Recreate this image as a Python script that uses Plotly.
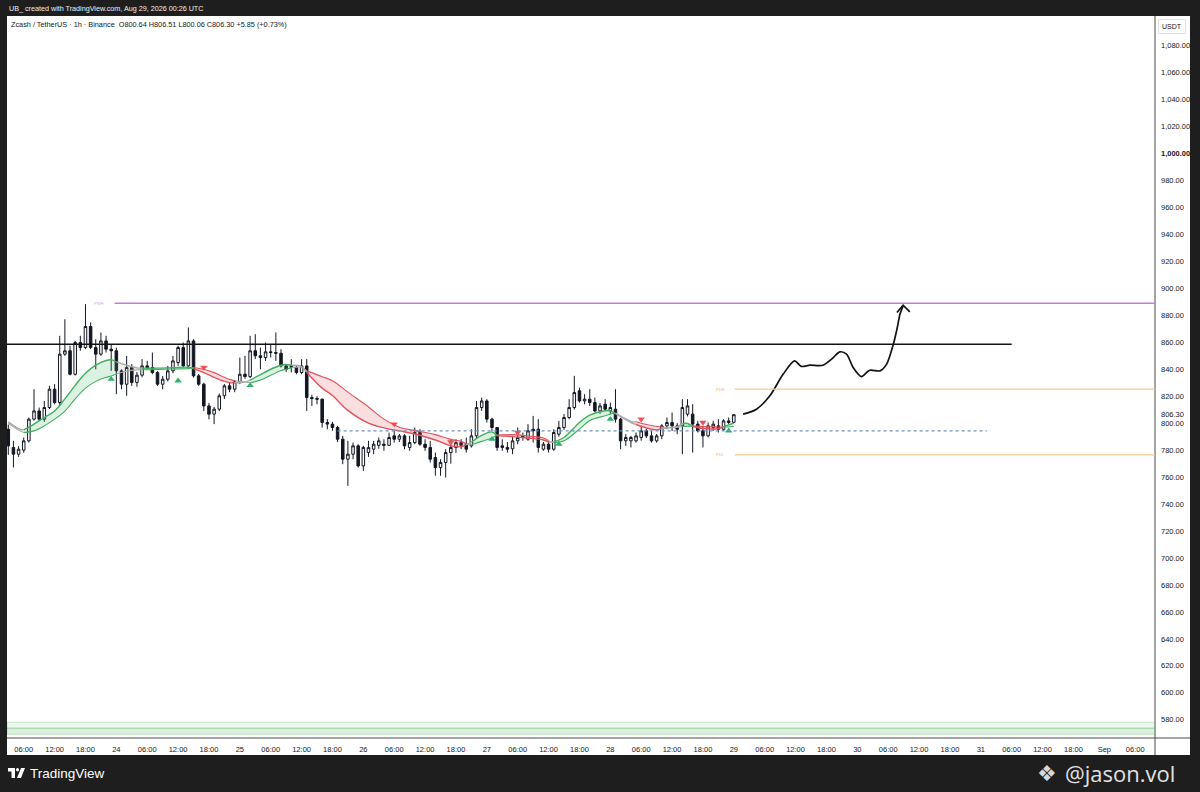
import pandas as pd
import plotly.graph_objects as go

# ZEC/USDT 1h candles, first bar Aug 23 03:00 UTC, last bar Aug 29 00:00 UTC
start = pd.Timestamp("2026-08-23 03:00")

opens = [
    795.5, 782.0, 777.0, 780.0, 786.9, 803.0, 809.1, 803.0, 811.6, 825.2,
    815.3, 851.2, 853.7, 836.3, 859.8, 856.1, 871.7, 856.1, 851.2, 861.0,
    854.9, 853.7, 838.8, 828.9, 841.3, 830.2, 835.6, 842.5, 841.3, 837.6,
    828.9, 832.6, 838.8, 845.0, 856.1, 842.5, 861.0, 835.1, 828.9, 812.8,
    806.7, 810.4, 820.3, 827.7, 825.2, 830.7, 836.3, 834.6, 853.7, 850.0,
    848.7, 852.9, 852.4, 851.9, 842.5, 842.5, 841.3, 837.6, 842.5, 819.0,
    818.3, 817.8, 800.5, 799.3, 796.8, 788.1, 773.3, 777.0, 783.2, 768.3,
    778.2, 780.7, 783.6, 784.4, 783.6, 790.6, 788.1, 790.6, 782.0, 785.6,
    793.1, 784.4, 782.0, 774.5, 767.1, 770.8, 778.2, 782.0, 785.6, 784.4,
    783.2, 790.6, 811.6, 816.5, 803.0, 796.8, 783.2, 782.0, 781.0, 786.9,
    789.4, 788.1, 795.5, 795.5, 780.7, 784.4, 780.7, 791.8, 796.8, 804.2,
    811.6, 824.0, 816.5, 817.8, 815.3, 809.1, 814.1, 809.1, 810.4, 803.0,
    786.9, 786.9, 786.9, 789.4, 794.3, 790.6, 786.9, 790.6, 798.0, 800.5,
    798.0, 798.0, 806.7, 806.7, 799.3, 794.3, 790.6, 796.8, 798.0, 795.5,
    801.7, 800.64,
]
highs = [
    799.0, 786.9, 783.0, 789.4, 804.2, 825.2, 811.6, 816.5, 827.7, 829.0,
    864.8, 877.1, 857.4, 861.0, 864.8, 888.3, 874.7, 862.3, 867.3, 864.8,
    858.6, 856.0, 840.0, 849.9, 843.8, 838.0, 847.5, 846.2, 852.4, 838.5,
    835.0, 842.5, 849.9, 857.4, 859.8, 871.0, 862.3, 836.5, 830.0, 815.0,
    812.0, 822.0, 829.0, 830.0, 832.0, 848.7, 849.9, 864.8, 866.0, 856.1,
    859.8, 858.6, 867.3, 854.9, 843.8, 847.5, 843.0, 847.5, 847.5, 821.0,
    820.0, 818.3, 803.0, 801.0, 798.0, 790.6, 786.9, 785.6, 784.4, 783.2,
    786.9, 786.9, 789.4, 788.1, 793.0, 794.3, 792.0, 791.8, 790.6, 796.8,
    795.5, 788.1, 786.9, 778.2, 773.3, 780.7, 788.1, 788.1, 788.1, 789.4,
    795.5, 816.5, 819.0, 817.8, 804.0, 797.0, 788.0, 786.0, 790.6, 796.8,
    793.0, 799.3, 805.4, 803.0, 786.0, 786.9, 795.5, 801.7, 806.7, 817.8,
    835.1, 826.4, 821.5, 825.2, 819.0, 815.0, 817.8, 815.3, 825.2, 804.0,
    791.8, 790.6, 793.1, 798.0, 796.0, 794.3, 792.0, 799.3, 804.2, 807.9,
    800.0, 817.8, 817.8, 814.1, 801.7, 798.0, 800.5, 801.7, 803.0, 803.0,
    804.2, 806.51,
]
lows = [
    776.5, 767.1, 775.0, 778.0, 785.6, 801.9, 801.9, 801.0, 810.5, 814.0,
    813.0, 849.9, 835.5, 835.3, 853.7, 854.9, 855.0, 840.0, 850.0, 852.4,
    838.8, 821.5, 825.2, 820.3, 827.7, 827.0, 834.0, 840.0, 836.3, 827.7,
    825.2, 831.0, 837.0, 842.5, 841.3, 840.0, 833.9, 827.7, 809.1, 802.9,
    799.3, 809.0, 818.0, 823.0, 823.0, 829.0, 833.0, 833.5, 847.5, 840.0,
    846.2, 848.7, 846.2, 841.3, 838.0, 837.6, 836.3, 836.3, 809.1, 812.8,
    814.0, 796.8, 795.5, 794.3, 786.0, 769.6, 753.5, 773.3, 767.1, 764.6,
    775.0, 777.0, 781.0, 779.5, 783.2, 785.6, 786.0, 780.7, 779.5, 784.4,
    783.2, 779.5, 770.8, 761.0, 761.0, 759.7, 770.0, 778.0, 780.7, 778.2,
    781.9, 789.0, 809.1, 800.5, 794.3, 779.5, 779.5, 778.2, 777.0, 784.4,
    787.0, 786.9, 785.6, 778.2, 779.5, 778.2, 779.5, 790.0, 795.0, 803.0,
    810.0, 815.3, 814.0, 812.8, 807.9, 807.0, 809.1, 807.0, 800.5, 780.7,
    783.2, 782.0, 785.6, 787.0, 789.0, 785.6, 785.6, 788.1, 795.5, 794.3,
    791.8, 777.0, 805.0, 778.2, 793.1, 782.0, 789.4, 794.3, 793.1, 794.3,
    799.3, 800.06,
]
closes = [
    783.2, 777.0, 780.7, 786.9, 803.0, 809.1, 803.0, 811.6, 825.2, 815.3,
    851.2, 853.7, 836.3, 859.8, 856.1, 871.7, 856.1, 851.2, 861.0, 854.9,
    853.7, 838.8, 828.9, 841.3, 830.2, 835.6, 842.5, 841.3, 837.6, 828.9,
    832.6, 838.8, 846.2, 856.1, 842.5, 861.0, 835.1, 828.9, 812.8, 806.7,
    810.4, 820.3, 827.7, 825.2, 830.7, 836.3, 834.6, 853.7, 850.0, 848.7,
    852.9, 852.4, 851.9, 842.5, 840.0, 841.3, 837.6, 842.5, 819.0, 818.3,
    817.8, 800.5, 799.3, 796.8, 788.1, 773.3, 777.0, 783.2, 768.3, 782.0,
    781.9, 784.4, 786.9, 783.6, 789.4, 788.1, 790.6, 783.2, 785.6, 793.1,
    784.4, 782.0, 773.3, 767.1, 770.8, 778.2, 782.0, 785.6, 783.6, 780.7,
    790.6, 811.6, 816.5, 803.0, 796.8, 782.0, 782.0, 780.7, 786.9, 789.4,
    790.6, 794.3, 794.3, 782.0, 784.4, 780.7, 793.1, 796.8, 804.2, 811.6,
    822.7, 816.5, 817.8, 815.3, 809.1, 812.8, 810.4, 811.6, 803.0, 786.9,
    789.4, 789.4, 790.6, 794.3, 790.6, 786.9, 790.6, 798.0, 800.5, 798.0,
    795.5, 811.6, 812.8, 799.3, 794.3, 790.6, 798.0, 799.3, 795.5, 801.7,
    800.5, 806.30,
]

# moving-average ribbon (bar index, fast, slow, state)
rib_bar = [0, 2, 3, 5, 7, 9, 11, 13, 15, 17, 19, 20, 21, 23, 25, 26, 29, 32, 35,
           36, 38, 40, 42, 43, 44, 46, 47, 49, 51, 53, 54, 55, 57, 58, 61, 63, 66,
           70, 73, 76, 79, 83, 86, 88, 89, 90, 92, 94, 95, 98, 101, 104, 105, 106,
           108, 111, 113, 116, 117, 118, 121, 122, 124, 126, 127, 130, 131, 132,
           133, 135, 138, 139, 141]
rib_fast = [801, 796, 795, 799.3, 804.2, 809.1, 818, 828, 837, 843, 846.5, 847,
            845.5, 843, 841, 840.8, 840.8, 841.2, 841.5, 840.5, 837.5, 834, 831, 830,
            830, 830.5, 832, 836, 840, 843, 843.5, 843, 842, 837.6, 826, 820.5, 809.5,
            800, 796.5, 794.3, 792, 787.5, 783.2, 782.5, 784, 786, 791, 793.5, 790.6,
            790, 789, 787.5, 786, 786, 789.4, 800.5, 806, 809.2, 809.2, 807, 800.5,
            799, 796.5, 795, 796, 797.5, 799.5, 799.8, 797.5, 796, 796, 797.5, 800]
rib_slow = [800, 795, 793, 794.3, 798, 803, 809, 818, 826, 831, 834, 835,
            836.5, 838.5, 839.5, 839.6, 839.8, 840.2, 840.6, 841.3, 840, 837.5, 834,
            832.5, 831.5, 830.5, 830, 832, 835.5, 839, 840, 841, 841.5, 838.8, 834.5,
            831.5, 823, 812, 803, 797, 794.5, 791.5, 788, 786.5, 784.5, 784, 786.5,
            789, 791.2, 791.5, 790.5, 789, 787, 785.5, 786.9, 795.6, 802, 805.5, 806.7,
            807.5, 801.5, 801, 799, 797.5, 797, 796.8, 797.5, 797.8, 798, 797.5, 797.2,
            797, 797.5]
rib_state = ["n", "n", "g", "g", "g", "g", "g", "g", "g", "g", "g", "g",
             "n", "n", "n", "g", "g", "g", "g", "r", "r", "r", "r", "r", "n", "n",
             "g", "g", "g", "g", "g", "n", "n", "r", "r", "r", "r", "r", "r", "r",
             "r", "r", "r", "r", "n", "g", "g", "g", "r", "r", "r", "r", "n", "g",
             "g", "g", "g", "g", "g", "n", "n", "r", "r", "r", "n", "n", "g", "g",
             "r", "r", "r", "g", "g"]

# signal triangles
up_bar = [20, 33, 47, 94, 107, 117, 140]
up_price = [832.6, 831.4, 828.0, 788.1, 784.4, 803.0, 794.3]
dn_bar = [38, 75, 86, 99, 123, 135]
dn_price = [841.3, 799.3, 786.1, 793.1, 803.0, 800.5]

# horizontal levels
level_black = 858.6
level_pwh = 889.0
level_pdh = 825.2
level_pdl = 776.5
level_dotted = 794.3
zone_top, zone_mid, zone_bot = 578.2, 573.8, 569.3

# hand-drawn projection (hours after Aug 29 00:00, price)
draw_hours = [1.8, 4.4, 7.0, 9.6, 11.8, 13.1, 14.8, 17.3, 19.0, 20.6, 21.9, 23.2,
              24.8, 26.4, 28.4, 29.7, 31.0, 31.7, 32.3, 32.9]
draw_price = [806.7, 810.4, 820.3, 836.4, 846.2, 842.1, 843.0, 843.0, 847.5, 852.9,
              851.2, 841.3, 834.6, 839.3, 838.8, 843.8, 858.6, 869.7, 880.9, 887.0]
head_hours = [31.7, 32.9, 34.2]
head_price = [882.1, 887.5, 882.6]

price_ticks = list(range(580, 1081, 20))

times = [start + pd.Timedelta(hours=k) for k in range(len(opens))]
day29 = pd.Timestamp("2026-08-29 00:00")
x_start = pd.Timestamp("2026-08-23 02:45")
x_end = pd.Timestamp("2026-09-01 09:51")
y_range = [566.5, 1102.0]

fig = go.Figure()

# ribbon segments
styles = {"g": ("#3fae5e", "rgba(76,185,106,0.20)"),
          "r": ("#e0535b", "rgba(232,92,100,0.20)"),
          "n": ("#a9a9a9", "rgba(160,160,160,0.15)")}
segs = []
for k, st in enumerate(rib_state):
    if segs and segs[-1][0] == st:
        segs[-1][1].append(k)
    else:
        if segs:
            segs[-1][1].append(k)
        segs.append((st, [k]))
for st, idx in segs:
    xs = [start + pd.Timedelta(hours=rib_bar[k]) for k in idx]
    col, fillc = styles[st]
    fig.add_trace(go.Scatter(x=xs, y=[rib_slow[k] for k in idx], mode="lines",
                             line=dict(color=col, width=1.1, shape="spline"),
                             hoverinfo="skip"))
    fig.add_trace(go.Scatter(x=xs, y=[rib_fast[k] for k in idx], mode="lines",
                             line=dict(color=col, width=1.4, shape="spline"),
                             fill="tonexty", fillcolor=fillc, hoverinfo="skip"))

fig.add_trace(go.Candlestick(
    x=times, open=opens, high=highs, low=lows, close=closes,
    increasing=dict(line=dict(color="#131722", width=1), fillcolor="#ffffff"),
    decreasing=dict(line=dict(color="#131722", width=1), fillcolor="#131722"),
    whiskerwidth=0, hoverinfo="skip"))

fig.add_trace(go.Scatter(x=[start + pd.Timedelta(hours=b) for b in up_bar], y=up_price,
                         mode="markers", marker=dict(symbol="triangle-up", size=6.5, color="#2fb36a"),
                         hoverinfo="skip"))
fig.add_trace(go.Scatter(x=[start + pd.Timedelta(hours=b) for b in dn_bar], y=dn_price,
                         mode="markers", marker=dict(symbol="triangle-down", size=6.5, color="#ef4f55"),
                         hoverinfo="skip"))

# drawing
fig.add_trace(go.Scatter(x=[day29 + pd.Timedelta(hours=h) for h in draw_hours], y=draw_price,
                         mode="lines", line=dict(color="#131313", width=1.7, shape="spline", smoothing=0.8),
                         hoverinfo="skip"))
fig.add_trace(go.Scatter(x=[day29 + pd.Timedelta(hours=h) for h in head_hours], y=head_price,
                         mode="lines", line=dict(color="#131313", width=1.7), hoverinfo="skip"))


def px(xp):
    return (xp - 7) / 1148


def py(yp):
    return (738 - yp) / 722


shapes = [
    # white chart + axis panel
    dict(type="rect", xref="paper", yref="paper", x0=0, x1=px(1190), y0=py(755), y1=1,
         fillcolor="#ffffff", line=dict(width=0), layer="below"),
    dict(type="line", xref="paper", yref="paper", x0=1, x1=1, y0=py(755), y1=1,
         line=dict(color="#4a4a4a", width=1)),
    dict(type="line", xref="paper", yref="paper", x0=0, x1=px(1190), y0=0, y1=0,
         line=dict(color="#4a4a4a", width=1)),
    # bottom green zone
    dict(type="rect", xref="x", yref="y", x0=x_start, x1=x_end, y0=zone_mid, y1=zone_top,
         fillcolor="rgba(102,187,106,0.10)", line=dict(color="rgba(102,187,106,0.35)", width=1)),
    dict(type="rect", xref="x", yref="y", x0=x_start, x1=x_end, y0=zone_bot, y1=zone_mid,
         fillcolor="rgba(102,187,106,0.22)", line=dict(color="rgba(102,187,106,0.35)", width=1)),
    # levels
    dict(type="line", xref="x", yref="y", x0=x_start, x1=pd.Timestamp("2026-08-31 06:00"),
         y0=level_black, y1=level_black, line=dict(color="#131313", width=1.5)),
    dict(type="line", xref="x", yref="y", x0=pd.Timestamp("2026-08-23 23:40"), x1=x_end,
         y0=level_pwh, y1=level_pwh, line=dict(color="#c47ae6", width=1.5)),
    dict(type="line", xref="x", yref="y", x0=pd.Timestamp("2026-08-29 00:10"), x1=x_end,
         y0=level_pdh, y1=level_pdh, line=dict(color="#f8c98f", width=1.2)),
    dict(type="line", xref="x", yref="y", x0=pd.Timestamp("2026-08-29 00:10"), x1=x_end,
         y0=level_pdl, y1=level_pdl, line=dict(color="#f8c98f", width=1.2)),
    dict(type="line", xref="x", yref="y", x0=pd.Timestamp("2026-08-25 19:00"),
         x1=pd.Timestamp("2026-08-31 01:10"), y0=level_dotted, y1=level_dotted,
         line=dict(color="#6d93c4", width=1.3, dash="dot")),
    # TradingView logo
    dict(type="rect", xref="paper", yref="paper", x0=px(8), x1=px(15), y0=py(771.5), y1=py(768),
         fillcolor="#ffffff", line=dict(width=0)),
    dict(type="rect", xref="paper", yref="paper", x0=px(11.5), x1=px(15), y0=py(778), y1=py(768),
         fillcolor="#ffffff", line=dict(width=0)),
    dict(type="circle", xref="paper", yref="paper", x0=px(16), x1=px(19), y0=py(771.5), y1=py(768),
         fillcolor="#ffffff", line=dict(width=0)),
    dict(type="path", xref="paper", yref="paper",
         path=f"M {px(21)},{py(768)} L {px(25)},{py(768)} L {px(21)},{py(778)} L {px(17)},{py(778)} Z",
         fillcolor="#ffffff", line=dict(width=0)),
]

# time axis ticks every 6 hours
tick_times = list(pd.date_range("2026-08-23 06:00", "2026-09-01 06:00", freq="6h"))
tick_text = []
for t in tick_times:
    if t.hour == 0:
        tick_text.append("Sep" if t.day == 1 else str(t.day))
    else:
        tick_text.append(t.strftime("%H:%M"))

price_text = []
for p in price_ticks:
    s = f"{p:,.2f}"
    price_text.append(f"<b>{s}</b>" if p == 1000 else s)

ann = [
    dict(xref="paper", yref="paper", x=px(7), y=py(8), xanchor="left", yanchor="middle",
         text="UB_ created with TradingView.com, Aug 29, 2026 00:26 UTC", showarrow=False,
         font=dict(size=7.2, color="#f0f0f0")),
    dict(xref="paper", yref="paper", x=px(9), y=py(24), xanchor="left", yanchor="middle",
         text="Zcash / TetherUS · 1h · Binance  O800.64 H806.51 L800.06 C806.30 +5.85 (+0.73%)",
         showarrow=False, font=dict(size=7.3, color="#131722")),
    dict(xref="paper", yref="paper", x=px(1172), y=py(27), xanchor="center", yanchor="middle",
         text="USDT", showarrow=False, font=dict(size=7, color="#131722"),
         bordercolor="#e0e3eb", borderwidth=1, borderpad=3),
    dict(xref="paper", yref="y", x=1, y=806.3, xanchor="left", yanchor="middle", xshift=4,
         text="806.30", showarrow=False, font=dict(size=7.5, color="#131722")),
    dict(xref="x", yref="y", x=pd.Timestamp("2026-08-23 20:30"), y=level_pwh, xanchor="center",
         yanchor="middle", text="PWH", showarrow=False, font=dict(size=4, color="#d7a8ef")),
    dict(xref="x", yref="y", x=pd.Timestamp("2026-08-28 21:30"), y=level_pdh, xanchor="center",
         yanchor="middle", text="PDH", showarrow=False, font=dict(size=4, color="#f5b46a")),
    dict(xref="x", yref="y", x=pd.Timestamp("2026-08-28 21:30"), y=level_pdl, xanchor="center",
         yanchor="middle", text="PDL", showarrow=False, font=dict(size=4, color="#f5b46a")),
    dict(xref="paper", yref="paper", x=px(28), y=py(773), xanchor="left", yanchor="middle",
         text="TradingView", showarrow=False, font=dict(size=13.5, color="#ffffff")),
    dict(xref="paper", yref="paper", x=px(1064), y=py(789), xanchor="left", yanchor="bottom",
         text="@jason.vol", showarrow=False, borderpad=0,
         font=dict(size=22, color="#e2e2e2", family="Open Sans, Noto Sans, sans-serif")),
    dict(xref="paper", yref="paper", x=px(1047), y=py(787), xanchor="center", yanchor="bottom",
         text="❖", showarrow=False, borderpad=0,
         font=dict(size=22, color="#d8d8d8", family="DejaVu Sans")),
]

fig.update_layout(
    width=1200, height=792,
    margin=dict(l=7, r=45, t=16, b=54),
    paper_bgcolor="#1e1e1e", plot_bgcolor="#ffffff",
    showlegend=False,
    font=dict(family="Liberation Sans, Arial, sans-serif", size=8, color="#131722"),
    xaxis=dict(type="date", range=[x_start, x_end], tickvals=tick_times, ticktext=tick_text,
               showgrid=False, zeroline=False, showline=False, ticks="",
               tickfont=dict(size=7.5, color="#131722"), ticklabelstandoff=5,
               rangeslider=dict(visible=False)),
    yaxis=dict(side="right", range=y_range, tickvals=price_ticks, ticktext=price_text,
               showgrid=False, zeroline=False, showline=False, ticks="",
               tickfont=dict(size=7.5, color="#131722"), ticklabelstandoff=5),
    shapes=shapes,
    annotations=ann,
)

# remove the browser's default page margin so the figure sits at the window corner
fig.write_html("out.html", config={"displayModeBar": False},
               post_script="document.body.style.margin='0';"
                           "document.body.style.background='#1e1e1e';")
